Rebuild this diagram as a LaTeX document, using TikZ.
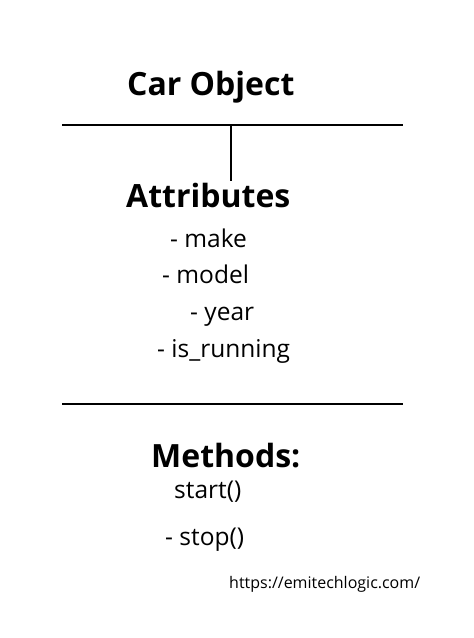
\documentclass[tikz,border=0pt]{standalone}
\usepackage{fontspec}
\setmainfont{Open Sans}

\tikzset{
	head/.style={anchor=base west, inner sep=0pt, font=\fontsize{32}{36}\selectfont\bfseries},
	item/.style={anchor=base west, inner sep=0pt, font=\fontsize{24.5}{28}\selectfont},
	rule/.style={line width=2pt}
}

\begin{document}
\begin{tikzpicture}[x=1pt,y=-1pt]
		\useasboundingbox[fill=white] (0,0) rectangle (474,638);
		
		\node[head] (car) at (127, 95) {Car Object};
		\coordinate (r1a) at (62, 125);
		\coordinate (r1b) at (403, 125);
		\coordinate (r1m) at (231, 125);
		\draw[rule] (r1a) -- (r1b);
		
		\node[head] (attr) at (126, 207) {Attributes};
		\coordinate (stem) at (231, 181);
		\draw[rule] (r1m) -- (stem);
		
		\node[item] (make) at (170, 247) {- make};
		\node[item] (model) at (162, 283) {- model};
		\node[item] (year) at (190, 320) {- year};
		\node[item] (running) at (157, 357) {- is\_running};
		
		\coordinate (r2a) at (62, 404);
		\coordinate (r2b) at (403, 404);
		\draw[rule] (r2a) -- (r2b);
		
		\node[head] (meth) at (151, 467) {Methods:};
		\node[item] (start) at (174, 498) {start()};
		\node[item] (stop) at (165, 545) {- stop()};
		
		\node[anchor=base west, inner sep=0pt, font=\fontsize{16}{19}\selectfont] (url) at (229, 588) {https://emitechlogic.com/};
\end{tikzpicture}
\end{document}
